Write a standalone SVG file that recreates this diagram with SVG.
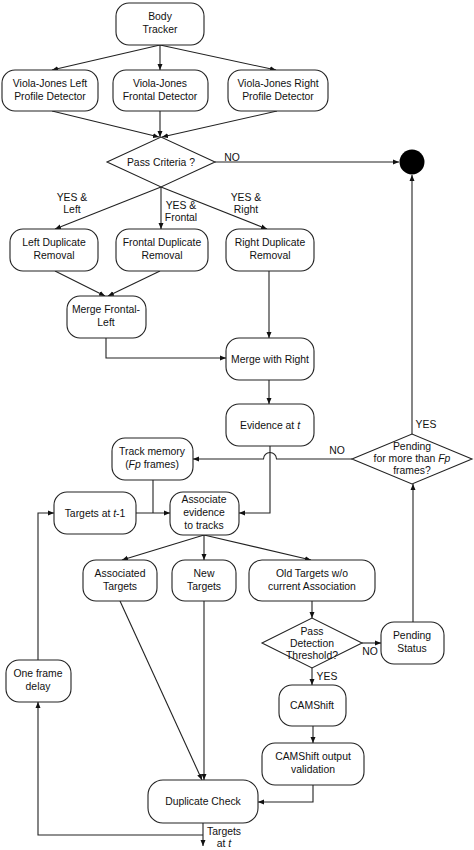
<svg xmlns="http://www.w3.org/2000/svg" width="474" height="850" viewBox="0 0 474 850">
<style>
.n{fill:#fff;stroke:#222;stroke-width:1.1}
.t{font-family:"Liberation Sans",Arial,sans-serif;font-size:10.4px;fill:#111;text-anchor:middle}
.c{fill:none;stroke:#222;stroke-width:1.1}
</style>
<defs>
<marker id="a" markerWidth="6" markerHeight="6" refX="6" refY="3" orient="auto" markerUnits="userSpaceOnUse"><path d="M0,0.5 L6,3 L0,5.5 z" fill="#111"/></marker>
</defs>
<rect width="474" height="850" fill="#fff"/>
<g id="connectors" class="c">
<path d="M160,45 L52,70" marker-end="url(#a)"/>
<path d="M160,45 L160,70" marker-end="url(#a)"/>
<path d="M160,45 L276,70" marker-end="url(#a)"/>
<path d="M52,111 L159,137" marker-end="url(#a)"/>
<path d="M160,111 L160,137" marker-end="url(#a)"/>
<path d="M277,111 L162,137" marker-end="url(#a)"/>
<path d="M215,162 L399,162" marker-end="url(#a)"/>
<path d="M161,187 L55,229" marker-end="url(#a)"/>
<path d="M161,187 L161,229" marker-end="url(#a)"/>
<path d="M161,187 L267,229" marker-end="url(#a)"/>
<path d="M55,271 L105,296" marker-end="url(#a)"/>
<path d="M160,271 L108,296" marker-end="url(#a)"/>
<path d="M269,271 L269,338" marker-end="url(#a)"/>
<path d="M106,338 L106,358 L226,358" marker-end="url(#a)"/>
<path d="M269,380 L269,404" marker-end="url(#a)"/>
<path d="M352,459 H276.5 A6.5,6.5 0 0 0 263.5,459 H193" marker-end="url(#a)"/>
<path d="M412,434 L412,175" marker-end="url(#a)"/>
<path d="M270,446 L270,513 L239,513" marker-end="url(#a)"/>
<path d="M136,513 L170,513" marker-end="url(#a)"/>
<path d="M153,480 L153,513"/>
<path d="M38,660 L38,513 L54,513" marker-end="url(#a)"/>
<path d="M204,535 L122,560" marker-end="url(#a)"/>
<path d="M204,535 L204,560" marker-end="url(#a)"/>
<path d="M204,535 L311,560" marker-end="url(#a)"/>
<path d="M312,601 L312,618" marker-end="url(#a)"/>
<path d="M362,643 L381,643" marker-end="url(#a)"/>
<path d="M413,622 L413,484" marker-end="url(#a)"/>
<path d="M312,668 L312,685" marker-end="url(#a)"/>
<path d="M313,726 L313,743" marker-end="url(#a)"/>
<path d="M313,785 L313,802 L258,802" marker-end="url(#a)"/>
<path d="M120,601 L202,780" marker-end="url(#a)"/>
<path d="M204,601 L204,780" marker-end="url(#a)"/>
<path d="M203,823 L203,846" marker-end="url(#a)"/>
<path d="M203,835 L38,835 L38,702" marker-end="url(#a)"/>
</g>
<g id="labels" class="t">
<text x="232" y="161">NO</text>
<text x="72" y="201">YES &amp;</text>
<text x="72" y="213">Left</text>
<text x="181" y="209">YES &amp;</text>
<text x="181" y="221">Frontal</text>
<text x="246" y="201">YES &amp;</text>
<text x="246" y="213">Right</text>
<text x="337" y="454">NO</text>
<text x="426" y="428">YES</text>
<text x="370" y="655">NO</text>
<text x="327" y="680">YES</text>
<text x="224" y="835">Targets</text>
<text x="224" y="847">at <tspan font-style="italic">t</tspan></text>
</g>
<g id="body-tracker"><rect class="n" x="116" y="3" width="88" height="42" rx="13"/><text class="t" x="160" y="20">Body</text><text class="t" x="160" y="33">Tracker</text></g>
<g id="vj-left"><rect class="n" x="2" y="70" width="96" height="41" rx="13"/><text class="t" x="50" y="87">Viola-Jones Left</text><text class="t" x="50" y="100">Profile Detector</text></g>
<g id="vj-frontal"><rect class="n" x="113" y="70" width="95" height="41" rx="13"/><text class="t" x="160" y="87">Viola-Jones</text><text class="t" x="160" y="100">Frontal Detector</text></g>
<g id="vj-right"><rect class="n" x="228" y="70" width="100" height="41" rx="13"/><text class="t" x="278" y="87">Viola-Jones Right</text><text class="t" x="278" y="100">Profile Detector</text></g>
<g id="pass-criteria"><path class="n" d="M107,162 L161,137 L215,162 L161,187 z"/><text class="t" x="161" y="166">Pass Criteria ?</text></g>
<g id="end"><circle cx="412" cy="162" r="12.5" fill="#000"/></g>
<g id="left-dup"><rect class="n" x="10" y="229" width="88" height="42" rx="13"/><text class="t" x="54" y="246">Left Duplicate</text><text class="t" x="54" y="259">Removal</text></g>
<g id="frontal-dup"><rect class="n" x="116" y="229" width="92" height="42" rx="13"/><text class="t" x="162" y="246">Frontal Duplicate</text><text class="t" x="162" y="259">Removal</text></g>
<g id="right-dup"><rect class="n" x="226" y="229" width="88" height="42" rx="13"/><text class="t" x="270" y="246">Right Duplicate</text><text class="t" x="270" y="259">Removal</text></g>
<g id="merge-fl"><rect class="n" x="67" y="296" width="79" height="42" rx="13"/><text class="t" x="106" y="313">Merge Frontal-</text><text class="t" x="106" y="326">Left</text></g>
<g id="merge-right"><rect class="n" x="226" y="338" width="88" height="42" rx="13"/><text class="t" x="270" y="363">Merge with Right</text></g>
<g id="evidence"><rect class="n" x="226" y="404" width="88" height="42" rx="13"/><text class="t" x="270" y="429">Evidence at <tspan font-style="italic">t</tspan></text></g>
<g id="track-memory"><rect class="n" x="112" y="438" width="81" height="42" rx="13"/><text class="t" x="152" y="455">Track memory</text><text class="t" x="152" y="468">(<tspan font-style="italic">Fp</tspan> frames)</text></g>
<g id="pending-decision"><path class="n" d="M352,459 L412,434 L472,459 L412,484 z"/><text class="t" x="412" y="450">Pending</text><text class="t" x="412" y="462">for more than <tspan font-style="italic">Fp</tspan></text><text class="t" x="412" y="474">frames?</text></g>
<g id="targets-t1"><rect class="n" x="54" y="492" width="82" height="42" rx="13"/><text class="t" x="95" y="517">Targets at <tspan font-style="italic">t</tspan>-1</text></g>
<g id="associate"><rect class="n" x="170" y="492" width="69" height="43" rx="13"/><text class="t" x="204" y="503">Associate</text><text class="t" x="204" y="516">evidence</text><text class="t" x="204" y="529">to tracks</text></g>
<g id="associated"><rect class="n" x="83" y="560" width="74" height="41" rx="13"/><text class="t" x="120" y="577">Associated</text><text class="t" x="120" y="590">Targets</text></g>
<g id="new-targets"><rect class="n" x="172" y="560" width="64" height="41" rx="13"/><text class="t" x="204" y="577">New</text><text class="t" x="204" y="590">Targets</text></g>
<g id="old-targets"><rect class="n" x="249" y="560" width="126" height="41" rx="13"/><text class="t" x="312" y="577">Old Targets w/o</text><text class="t" x="312" y="590">current Association</text></g>
<g id="pass-detection"><path class="n" d="M262,643 L312,618 L362,643 L312,668 z"/><text class="t" x="312" y="635">Pass</text><text class="t" x="312" y="647">Detection</text><text class="t" x="312" y="659">Threshold?</text></g>
<g id="pending-status"><rect class="n" x="381" y="622" width="63" height="42" rx="13"/><text class="t" x="412" y="639">Pending</text><text class="t" x="412" y="652">Status</text></g>
<g id="one-frame"><rect class="n" x="6" y="660" width="65" height="42" rx="13"/><text class="t" x="38" y="677">One frame</text><text class="t" x="38" y="690">delay</text></g>
<g id="camshift"><rect class="n" x="279" y="685" width="67" height="41" rx="13"/><text class="t" x="312" y="709">CAMShift</text></g>
<g id="camshift-val"><rect class="n" x="262" y="743" width="102" height="42" rx="13"/><text class="t" x="313" y="760">CAMShift output</text><text class="t" x="313" y="773">validation</text></g>
<g id="duplicate-check"><rect class="n" x="148" y="780" width="110" height="43" rx="15"/><text class="t" x="203" y="805">Duplicate Check</text></g>
</svg>
